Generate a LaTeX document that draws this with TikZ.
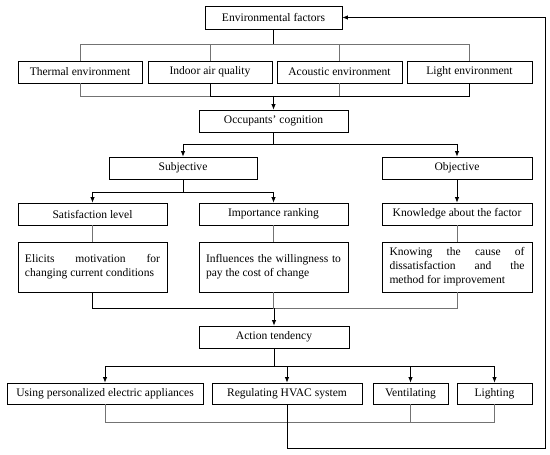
\documentclass[tikz,border=0pt]{standalone}
\usepackage{fontspec}
\setmainfont{Liberation Serif}
\usetikzlibrary{arrows.meta}
\tikzset{
  box/.style={draw=black, line width=0.8bp, inner sep=0pt, minimum height=22bp,
    font=\fontsize{11.6}{14}\selectfont, align=center},
  tbox/.style={box, minimum height=50bp, minimum width=150bp, text width=135bp,
    align=justify},
  gline/.style={draw=black!55, line width=0.7bp},
  kline/.style={draw=black, line width=0.8bp},
  arr/.style={kline, -{Latex[length=5.5bp,width=4.5bp]}}
}
\begin{document}
\begin{tikzpicture}[x=1bp,y=-1bp]
\useasboundingbox (0,0) rectangle (550,455);
% nodes
\node[box, minimum width=137bp, minimum height=23bp] (env) at (273.5,17.5) {Environmental factors};
\node[box, minimum width=124bp] (therm) at (80,72) {Thermal environment};
\node[box, minimum width=124bp] (indoor) at (210,72) {Indoor air quality};
\node[box, minimum width=125bp] (acou) at (339.5,72) {Acoustic environment};
\node[box, minimum width=125bp] (lightenv) at (469.5,72) {Light environment};
\node[box, minimum width=149bp] (occ) at (273.5,121) {Occupants’ cognition};
\node[box, minimum width=148bp] (subj) at (183,168) {Subjective};
\node[box, minimum width=150bp] (obj) at (457,168) {Objective};
\node[box, minimum width=149bp] (sat) at (92.5,214) {Satisfaction level};
\node[box, minimum width=149bp] (imp) at (273.5,214) {Importance ranking};
\node[box, minimum width=150bp] (know) at (457,214) {Knowledge about the factor};
\node[tbox, minimum width=149bp] (elic) at (92.5,267) {Elicits motivation for\linebreak changing current conditions};
\node[tbox, minimum width=149bp] (infl) at (273.5,267) {Influences the willingness to\linebreak pay the cost of change};
\node[tbox] (knowing) at (457,267) {Knowing the cause of\linebreak dissatisfaction and the\linebreak method for improvement};
\node[box, minimum width=150bp] (act) at (274,337) {Action tendency};
\node[box, minimum width=196bp, minimum height=21bp] (using) at (105,393.5) {Using personalized electric appliances};
\node[box, minimum width=150bp, minimum height=21bp] (hvac) at (287,393.5) {Regulating HVAC system};
\node[box, minimum width=75bp, minimum height=21bp] (vent) at (410.5,393.5) {Ventilating};
\node[box, minimum width=75bp, minimum height=21bp] (lighting) at (494.5,393.5) {Lighting};
% row coordinates
\coordinate (r1) at (0,44);
\coordinate (r2) at (0,96);
\coordinate (r3) at (0,144);
\coordinate (r4) at (0,192);
\coordinate (r5) at (0,308);
\coordinate (r6) at (0,366);
\coordinate (r7) at (0,422);
\coordinate (fb) at (545,448);
% environmental factors branch
\draw[kline] (env.south) -- (env.south |- r1);
\draw[gline] (therm.north) -- (therm.north |- r1) -- (lightenv.north |- r1) -- (lightenv.north);
\draw[gline] (indoor.north) -- (indoor.north |- r1);
\draw[gline] (acou.north) -- (acou.north |- r1);
\draw[gline] (therm.south) -- (therm.south |- r2) -- (indoor.south |- r2);
\draw[kline] (indoor.south) -- (indoor.south |- r2) -- (lightenv.south |- r2) -- (lightenv.south);
\draw[gline] (acou.south) -- (acou.south |- r2);
\draw[arr] (occ.north |- r2) -- (occ.north);
% cognition
\draw[kline] (occ.south) -- (occ.south |- r3);
\draw[kline] (subj.north |- r3) -- (obj.north |- r3);
\draw[arr] (subj.north |- r3) -- (subj.north);
\draw[arr] (obj.north |- r3) -- (obj.north);
\draw[kline] (subj.south) -- (subj.south |- r4);
\draw[kline] (sat.north |- r4) -- (imp.north |- r4);
\draw[arr] (sat.north |- r4) -- (sat.north);
\draw[arr] (imp.north |- r4) -- (imp.north);
\draw[arr] (obj.south) -- (know.north);
\draw[gline] (sat.south) -- (elic.north);
\draw[gline] (imp.south) -- (infl.north);
\draw[gline] (know.south) -- (knowing.north);
% to action
\draw[kline] (elic.south) -- (elic.south |- r5) -- (infl.south |- r5);
\draw[gline] (infl.south) -- (infl.south |- r5) -- (knowing.south |- r5) -- (knowing.south);
\draw[arr] (act.north |- r5) -- (act.north);
% actions
\draw[kline] (act.south) -- (act.south |- r6);
\draw[kline] (using.north |- r6) -- (lighting.north |- r6);
\draw[arr] (using.north |- r6) -- (using.north);
\draw[arr] (hvac.north |- r6) -- (hvac.north);
\draw[arr] (vent.north |- r6) -- (vent.north);
\draw[arr] (lighting.north |- r6) -- (lighting.north);
\draw[gline] (using.south) -- (using.south |- r7) -- (lighting.south |- r7) -- (lighting.south);
\draw[gline] (vent.south) -- (vent.south |- r7);
% feedback
\draw[arr] (hvac.south) |- (fb) |- (env.east);
\end{tikzpicture}
\end{document}
